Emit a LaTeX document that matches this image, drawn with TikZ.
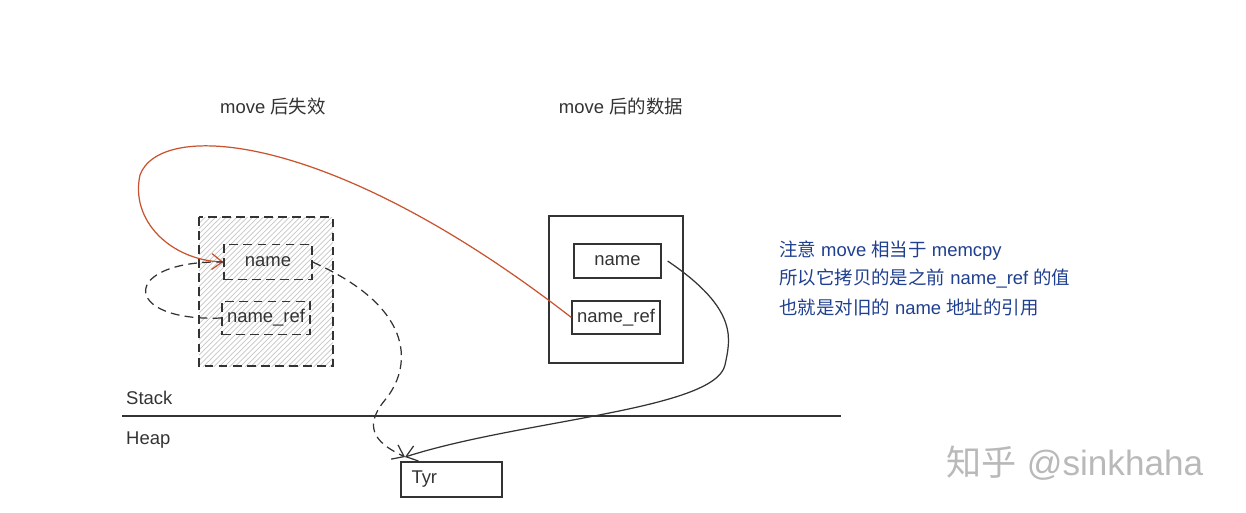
\documentclass[tikz,border=0pt]{standalone}
\usepackage{fontspec}
\setmainfont{Liberation Sans}
\newfontfamily\cjk{Noto Sans CJK SC}
\usetikzlibrary{patterns,arrows.meta}
\definecolor{ink}{HTML}{333333}
\definecolor{redc}{HTML}{C8532E}
\definecolor{bluec}{HTML}{1F3F8F}
\tikzset{
 x=0.02cm,y=-0.02cm,
 box/.style={draw=ink,line width=0.7pt,minimum width=#1,inner sep=0pt},
 txt/.style={font=\fontsize{10.5pt}{12pt}\selectfont,text=ink},
 dsh/.style={dash pattern=on 5pt off 3pt},
 arr/.style={-{Straight Barb[length=6pt,width=9pt]}}
}
\begin{document}
\begin{tikzpicture}
\useasboundingbox (0,0) rectangle (1246,512);
\node[txt] (t1) at (273,106) {move {\cjk 后失效}};
\node[txt] (t2) at (621,106) {move {\cjk 后的数据}};
% left invalid box
\fill[pattern=north east lines,pattern color=gray!45] (199,217) rectangle (333,366);
\draw[ink,line width=0.7pt,dsh] (199,217) rectangle (333,366);
\node[txt,draw=ink,dsh,line width=0.7pt,minimum width=88*0.02cm,minimum height=35*0.02cm,inner sep=0pt] (n1) at (268,262) {name};
\node[txt,draw=ink,dsh,line width=0.7pt,minimum width=88*0.02cm,minimum height=33*0.02cm,inner sep=0pt] (r1) at (266,318) {name\_ref};
% right box
\node[draw=ink,line width=0.7pt,minimum width=134*0.02cm,minimum height=147*0.02cm] (rb) at (616,289.5) {};
\node[txt,draw=ink,line width=0.7pt,minimum width=87*0.02cm,minimum height=34*0.02cm,inner sep=0pt] (n2) at (617.5,261) {name};
\node[txt,draw=ink,line width=0.7pt,minimum width=88*0.02cm,minimum height=33*0.02cm,inner sep=0pt] (r2) at (616,317.5) {name\_ref};
% blue note
\node[anchor=west,text=bluec,font=\fontsize{10.5pt}{12pt}\selectfont] (b1) at (773,251) {{\cjk 注意} move {\cjk 相当于} memcpy};
\node[anchor=west,text=bluec,font=\fontsize{10.5pt}{12pt}\selectfont] (b2) at (773,279) {{\cjk 所以它拷贝的是之前} name\_ref {\cjk 的值}};
\node[anchor=west,text=bluec,font=\fontsize{10.5pt}{12pt}\selectfont] (b3) at (773,307) {{\cjk 也就是对旧的} name {\cjk 地址的引用}};
% stack / heap
\node[txt,anchor=west] (st) at (120,398) {Stack};
\node[txt,anchor=west] (hp) at (120,440) {Heap};
\coordinate (l1) at (122,416); \coordinate (l2) at (841,416);
\draw[ink,line width=0.6pt] (l1) -- (l2);
\node[txt,draw=ink,line width=0.7pt,minimum width=101*0.02cm,minimum height=35*0.02cm,inner sep=0pt,text width=80*0.02cm] (tyr) at (451.5,479.5) {Tyr};
% watermark
\node[text=gray!55,font=\fontsize{20pt}{22pt}\selectfont] (wm) at (1075,463) {{\cjk 知乎} @sinkhaha};
% connectors
\coordinate (tt) at (405,457);
\draw[redc,line width=0.7pt,arr] (r2.west) .. controls (330,130) and (160,120) .. (140,175) .. controls (130,220) and (170,260) .. (n1.west);
\draw[ink,line width=0.7pt,dsh] (r1.west) .. controls (120,322) and (120,260) .. (n1.west);
\draw[ink,line width=0.7pt,dsh,arr] (n1.east) .. controls (420,310) and (410,370) .. (385,400) .. controls (360,430) and (380,445) .. (tt);
\draw[ink,line width=0.7pt,arr] ([xshift=6*0.02cm]n2.east) .. controls (740,310) and (730,340) .. (725,365) .. controls (715,410) and (520,420) .. (tt);
\end{tikzpicture}
\end{document}
